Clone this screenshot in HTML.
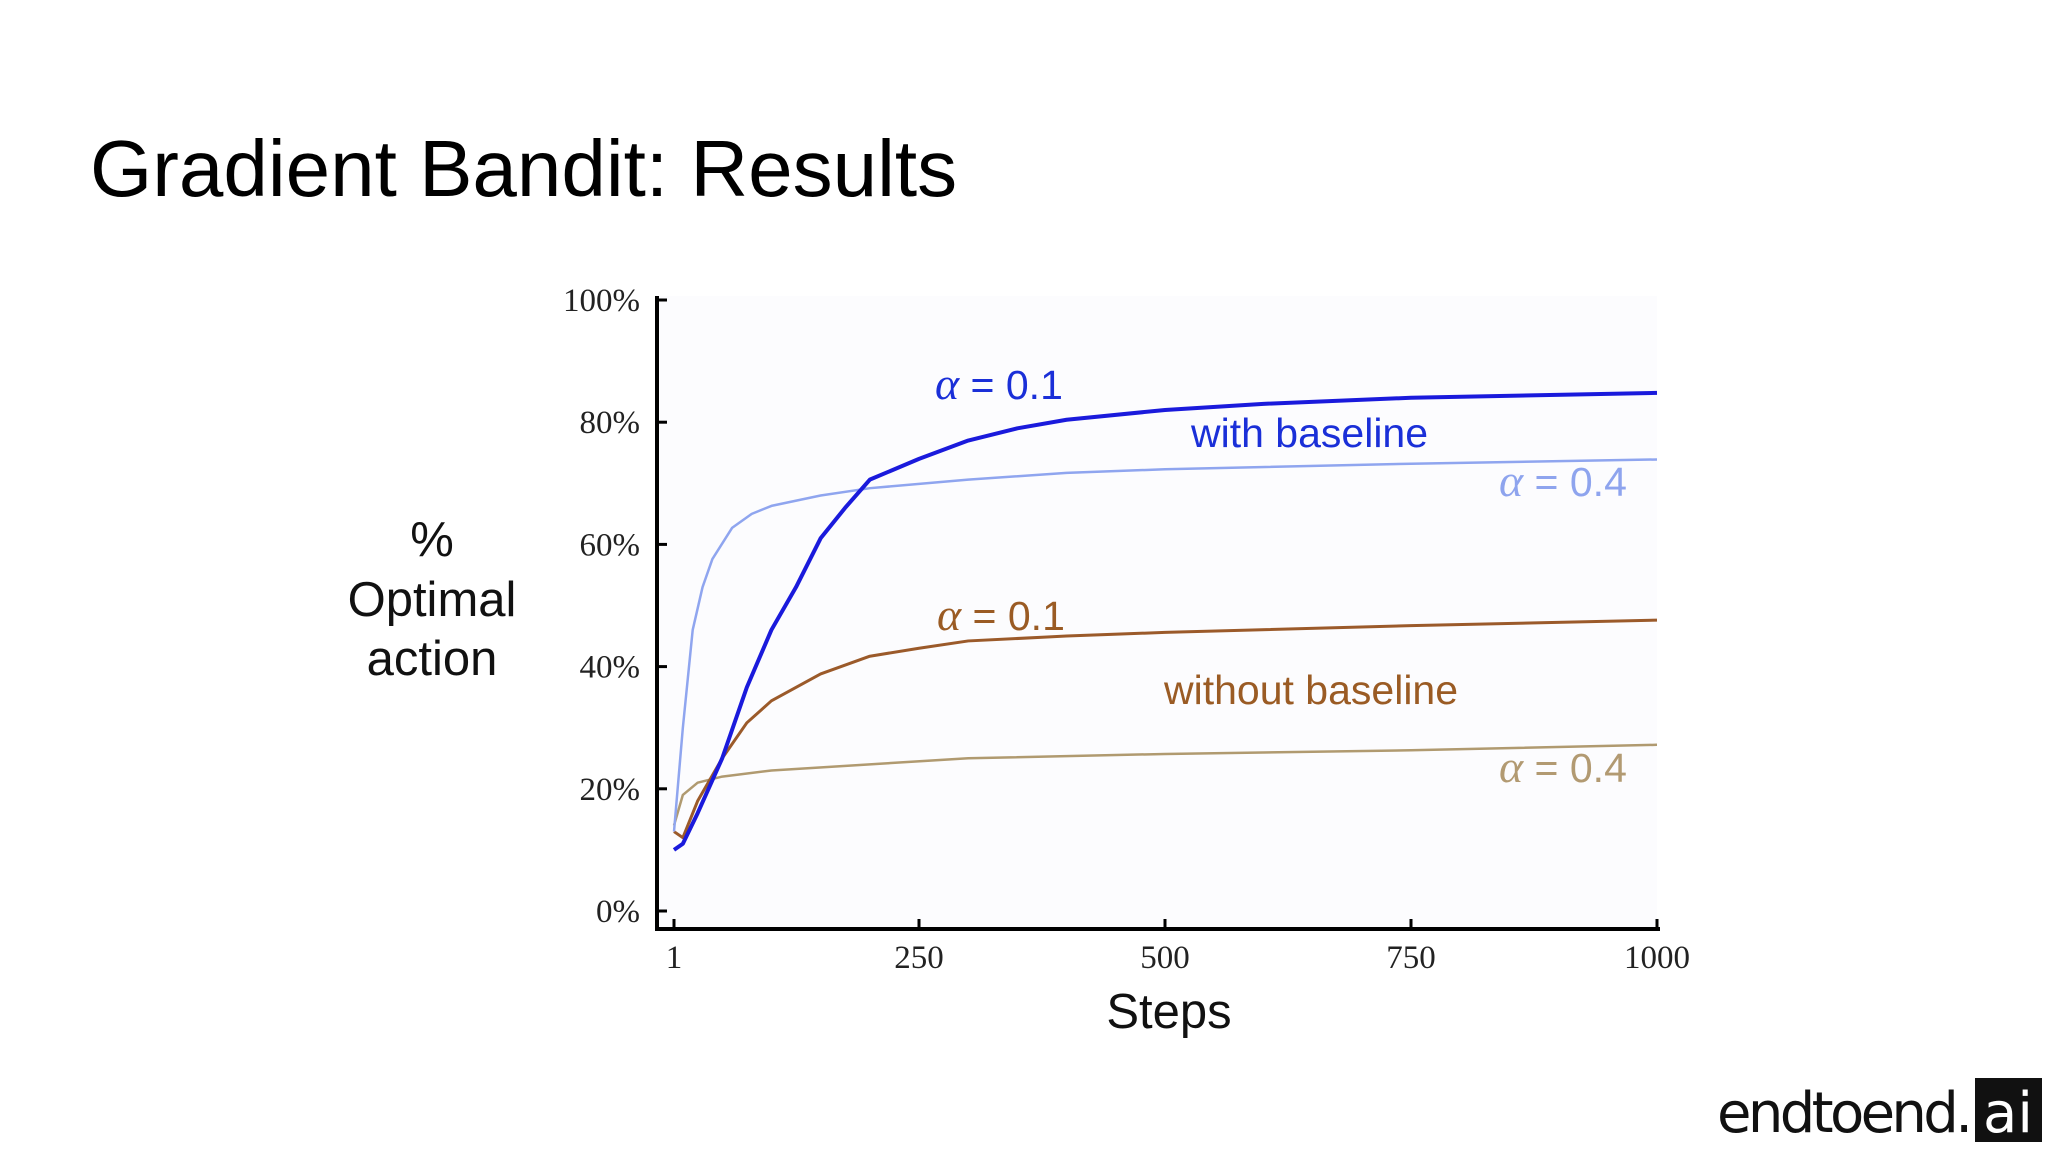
<!DOCTYPE html>
<html><head><meta charset="utf-8"><style>
body{margin:0;width:2048px;height:1152px;background:#fff;overflow:hidden;font-family:"Liberation Sans",sans-serif}
svg{position:absolute;left:0;top:0}
</style></head><body>
<svg width="2048" height="1152">
<text x="90" y="196" font-size="80" fill="#000">Gradient Bandit: Results</text>
<g id="chart"></g>
<g font-size="49" text-anchor="middle" fill="#111">
<text x="432" y="556">%</text><text x="432" y="616">Optimal</text><text x="432" y="675">action</text></g>
<text x="1169" y="1028" font-size="49" text-anchor="middle" fill="#111">Steps</text>
<g>
<text x="1717" y="1132" font-size="56" font-family="DejaVu Sans, sans-serif" fill="#111" textLength="256">endtoend.</text>
<rect x="1975" y="1078" width="67" height="64" fill="#111"/>
<text x="1983" y="1132" font-size="56" font-family="DejaVu Sans, sans-serif" fill="#fff">ai</text>
</g>
</svg>
<script>
const xTicks=[1,250,500,750,1000];
const yTicks=[0,20,40,60,80,100];
const blue01X=[1,10,25,50,75,100,125,150,175,200,250,300,350,400,500,600,750,1000];
const blue01Y=[10,11,16,25,36.6,46,53,61,66,70.6,74,77,79,80.4,82,83,84,84.8];
const blue04X=[1,10,20,30,40,60,80,100,150,200,300,400,500,750,1000];
const blue04Y=[13,30,46,53,57.6,62.7,65,66.3,68,69.2,70.6,71.7,72.3,73.2,73.9];
const brown01X=[1,10,25,50,75,100,150,200,250,300,400,500,750,1000];
const brown01Y=[13,12,18,25,30.8,34.4,38.8,41.7,43,44.2,45,45.6,46.7,47.6];
const tan04X=[1,10,25,50,100,200,300,500,750,1000];
const tan04Y=[14,19,21,22,23,24,25,25.7,26.3,27.2];
const NS='http://www.w3.org/2000/svg';
const g=document.getElementById('chart');
const X=v=>674+(v-1)/999*983;
const Y=v=>911-v/100*611;
function mk(t,a){const e=document.createElementNS(NS,t);for(const k in a)e.setAttribute(k,a[k]);g.appendChild(e);return e;}
let e=mk('rect',{x:657,y:296,width:1000,height:633,fill:'#fcfcfe'});


e=mk('line',{x1:657,y1:296,x2:657,y2:931,stroke:'#000','stroke-width':4});


e=mk('line',{x1:655,y1:929,x2:1660,y2:929,stroke:'#000','stroke-width':4});


yTicks.forEach(v=>{
 let l=mk('line',{x1:657,y1:Y(v),x2:667,y2:Y(v),stroke:'#000','stroke-width':3});
 
 
 let t=mk('text',{x:640,y:Y(v)+11,'font-size':33,'font-family':'Liberation Serif, serif','text-anchor':'end',fill:'#222'});
 t.textContent=v+'%';
 
 
});
xTicks.forEach(v=>{
 let l=mk('line',{x1:X(v),y1:919,x2:X(v),y2:929,stroke:'#000','stroke-width':3});
 
 
 let t=mk('text',{x:X(v),y:968,'font-size':33,'font-family':'Liberation Serif, serif','text-anchor':'middle',fill:'#222'});
 t.textContent=v;
 
 
});
function series(xs,ys,col,w,name){
 const p=mk('polyline',{points:xs.map((x,i)=>X(x)+','+Y(ys[i])).join(' '),fill:'none',stroke:col,'stroke-width':w,'stroke-linejoin':'round'});
 
 
}
series(tan04X,tan04Y,'#b09a70',2.5,'line-without-baseline-alpha-0.4');
series(brown01X,brown01Y,'#9b5a2a',3,'line-without-baseline-alpha-0.1');
series(blue04X,blue04Y,'#8fa5ef',2.5,'line-with-baseline-alpha-0.4');
series(blue01X,blue01Y,'#1a1adc',4,'line-with-baseline-alpha-0.1');
function lab(x,y,txt,col,name,alpha){
 const t=mk('text',{x:x,y:y,'font-size':41,fill:col});
 if(alpha){const a=document.createElementNS(NS,'tspan');a.setAttribute('font-family','Liberation Serif, serif');a.setAttribute('font-style','italic');a.setAttribute('font-size','46');a.textContent='α';t.appendChild(a);t.appendChild(document.createTextNode(' = '+txt));}
 else t.textContent=txt;
 
 
}
lab(935,399,'0.1','#1a2fd8','label-alpha-0.1-with',true);
lab(1191,447,'with baseline','#1a2fd8','label-with-baseline',false);
lab(1499,496,'0.4','#8ea4ee','label-alpha-0.4-with',true);
lab(937,630,'0.1','#9a5b24','label-alpha-0.1-without',true);
lab(1164,704,'without baseline','#9a5b24','label-without-baseline',false);
lab(1499,782,'0.4','#b29a72','label-alpha-0.4-without',true);
</script>
</body></html>
